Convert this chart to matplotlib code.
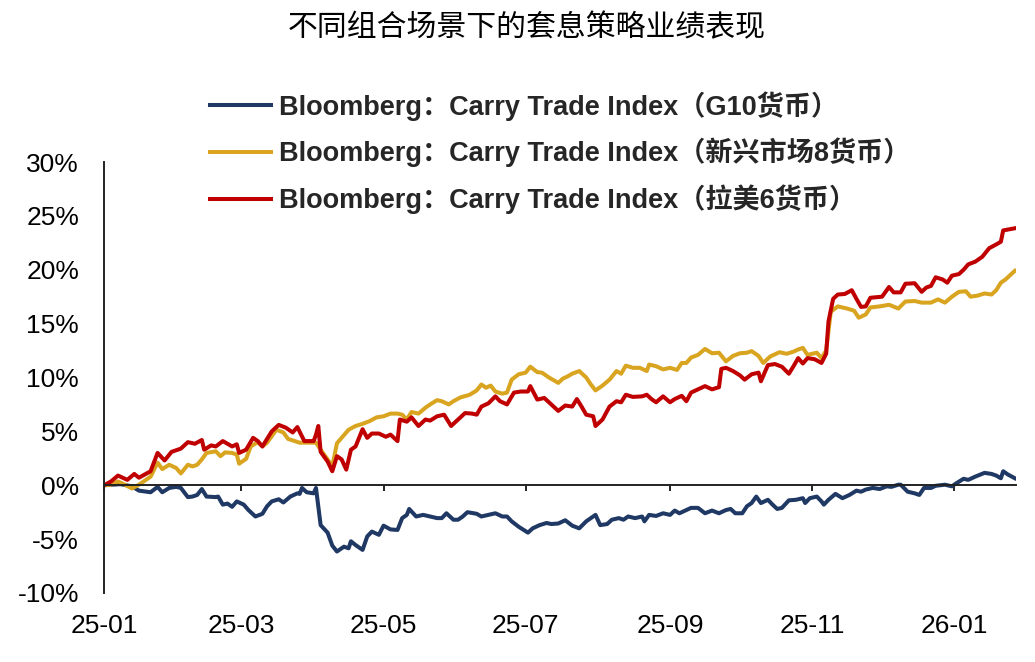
import pandas as pd
import matplotlib
matplotlib.use("Agg")
import matplotlib.pyplot as plt
import matplotlib.dates as mdates
from matplotlib.ticker import FuncFormatter

# Bloomberg Carry Trade Index, cumulative return (%) since 2025-01-01
g10_dates = [
    "2025-01-01", "2025-01-08", "2025-01-13", "2025-01-16", "2025-01-21", "2025-01-24", "2025-01-26",
    "2025-01-29", "2025-02-01", "2025-02-03", "2025-02-06", "2025-02-08", "2025-02-10", "2025-02-12",
    "2025-02-14", "2025-02-18", "2025-02-19", "2025-02-21", "2025-02-23", "2025-02-25", "2025-02-27",
    "2025-03-02", "2025-03-04", "2025-03-07", "2025-03-10", "2025-03-12", "2025-03-14", "2025-03-17",
    "2025-03-19", "2025-03-22", "2025-03-25", "2025-03-26", "2025-03-27", "2025-03-29", "2025-04-01",
    "2025-04-02", "2025-04-04", "2025-04-07", "2025-04-09", "2025-04-11", "2025-04-14", "2025-04-16",
    "2025-04-17", "2025-04-19", "2025-04-22", "2025-04-24", "2025-04-26", "2025-04-29", "2025-05-01",
    "2025-05-04", "2025-05-07", "2025-05-09", "2025-05-11", "2025-05-12", "2025-05-15", "2025-05-18",
    "2025-05-21", "2025-05-24", "2025-05-26", "2025-05-28", "2025-05-31", "2025-06-02", "2025-06-04",
    "2025-06-06", "2025-06-10", "2025-06-12", "2025-06-15", "2025-06-18", "2025-06-21", "2025-06-23",
    "2025-06-25", "2025-06-28", "2025-07-02", "2025-07-04", "2025-07-07", "2025-07-10", "2025-07-12",
    "2025-07-15", "2025-07-18", "2025-07-21", "2025-07-24", "2025-07-27", "2025-07-30", "2025-07-31",
    "2025-08-02", "2025-08-05", "2025-08-07", "2025-08-10", "2025-08-12", "2025-08-14", "2025-08-17",
    "2025-08-20", "2025-08-21", "2025-08-23", "2025-08-26", "2025-08-29", "2025-09-01", "2025-09-03",
    "2025-09-05", "2025-09-08", "2025-09-10", "2025-09-13", "2025-09-16", "2025-09-19", "2025-09-22",
    "2025-09-25", "2025-09-27", "2025-09-29", "2025-10-02", "2025-10-04", "2025-10-06", "2025-10-08",
    "2025-10-10", "2025-10-13", "2025-10-15", "2025-10-17", "2025-10-19", "2025-10-22", "2025-10-25",
    "2025-10-28", "2025-10-29", "2025-10-31", "2025-11-03", "2025-11-05", "2025-11-06", "2025-11-08",
    "2025-11-11", "2025-11-14", "2025-11-17", "2025-11-20", "2025-11-22", "2025-11-24", "2025-11-27",
    "2025-11-30", "2025-12-03", "2025-12-05", "2025-12-08", "2025-12-09", "2025-12-12", "2025-12-15",
    "2025-12-17", "2025-12-19", "2025-12-22", "2025-12-24", "2025-12-28", "2025-12-31", "2026-01-02",
    "2026-01-05", "2026-01-07", "2026-01-10", "2026-01-14", "2026-01-17", "2026-01-19", "2026-01-21",
    "2026-01-22", "2026-01-24", "2026-01-27",
]
g10 = [
    0.0, 0.1, -0.1, -0.5, -0.65, -0.15, -0.65,
    -0.25, -0.15, -0.25, -1.1, -1.05, -0.9, -0.35,
    -1.05, -1.1, -1.05, -1.8, -1.7, -2.0, -1.5,
    -1.8, -2.3, -2.9, -2.65, -1.95, -1.5, -1.3,
    -1.6, -1.05, -0.75, -0.8, -0.25, -0.65, -0.75,
    -0.25, -3.7, -4.4, -5.6, -6.15, -5.7, -5.85,
    -5.2, -5.55, -6.0, -4.75, -4.3, -4.6, -3.75,
    -4.1, -4.15, -3.05, -2.75, -2.2, -2.9, -2.75,
    -2.9, -3.05, -3.05, -2.6, -3.2, -3.2, -2.9,
    -2.5, -2.65, -2.9, -2.75, -2.6, -2.9, -2.9,
    -3.35, -3.85, -4.4, -4.0, -3.7, -3.5, -3.6,
    -3.55, -3.25, -3.75, -4.0, -3.35, -2.9, -2.75,
    -3.7, -3.6, -3.2, -3.05, -3.2, -2.9, -3.05,
    -2.9, -3.35, -2.75, -2.85, -2.6, -2.75, -2.35,
    -2.6, -2.3, -2.1, -2.1, -2.6, -2.35, -2.6,
    -2.3, -2.2, -2.6, -2.6, -1.95, -1.65, -1.05,
    -1.65, -1.35, -1.8, -2.2, -2.1, -1.4, -1.35,
    -1.2, -1.65, -1.2, -1.05, -1.5, -1.8, -1.35,
    -0.8, -1.2, -0.9, -0.5, -0.6, -0.4, -0.25,
    -0.35, -0.1, -0.15, 0.05, 0.05, -0.6, -0.75,
    -0.9, -0.25, -0.25, -0.05, 0.05, -0.1, 0.2,
    0.6, 0.5, 0.8, 1.15, 1.05, 0.9, 0.65,
    1.3, 1.0, 0.65,
]

em8_dates = [
    "2025-01-01", "2025-01-04", "2025-01-07", "2025-01-10", "2025-01-13", "2025-01-16", "2025-01-18",
    "2025-01-21", "2025-01-24", "2025-01-26", "2025-01-29", "2025-02-01", "2025-02-03", "2025-02-06",
    "2025-02-08", "2025-02-10", "2025-02-12", "2025-02-14", "2025-02-18", "2025-02-20", "2025-02-22",
    "2025-02-25", "2025-02-27", "2025-02-28", "2025-03-03", "2025-03-05", "2025-03-08", "2025-03-10",
    "2025-03-12", "2025-03-16", "2025-03-19", "2025-03-21", "2025-03-26", "2025-03-30", "2025-04-02",
    "2025-04-04", "2025-04-07", "2025-04-09", "2025-04-11", "2025-04-13", "2025-04-16", "2025-04-19",
    "2025-04-22", "2025-04-25", "2025-04-28", "2025-05-01", "2025-05-04", "2025-05-07", "2025-05-09",
    "2025-05-11", "2025-05-13", "2025-05-16", "2025-05-19", "2025-05-21", "2025-05-24", "2025-05-26",
    "2025-05-29", "2025-05-31", "2025-06-03", "2025-06-07", "2025-06-10", "2025-06-12", "2025-06-14",
    "2025-06-16", "2025-06-18", "2025-06-21", "2025-06-23", "2025-06-25", "2025-06-28", "2025-07-01",
    "2025-07-03", "2025-07-06", "2025-07-08", "2025-07-11", "2025-07-15", "2025-07-17", "2025-07-19",
    "2025-07-21", "2025-07-24", "2025-07-27", "2025-07-29", "2025-07-31", "2025-08-03", "2025-08-06",
    "2025-08-09", "2025-08-11", "2025-08-13", "2025-08-16", "2025-08-19", "2025-08-22", "2025-08-23",
    "2025-08-26", "2025-08-29", "2025-09-01", "2025-09-04", "2025-09-06", "2025-09-08", "2025-09-10",
    "2025-09-13", "2025-09-16", "2025-09-19", "2025-09-22", "2025-09-25", "2025-09-28", "2025-10-01",
    "2025-10-04", "2025-10-06", "2025-10-09", "2025-10-11", "2025-10-14", "2025-10-18", "2025-10-21",
    "2025-10-24", "2025-10-26", "2025-10-28", "2025-10-30", "2025-10-31", "2025-11-03", "2025-11-05",
    "2025-11-07", "2025-11-09", "2025-11-12", "2025-11-16", "2025-11-19", "2025-11-21", "2025-11-24",
    "2025-11-26", "2025-11-30", "2025-12-04", "2025-12-08", "2025-12-11", "2025-12-15", "2025-12-18",
    "2025-12-22", "2025-12-25", "2025-12-28", "2025-12-31", "2026-01-03", "2026-01-06", "2026-01-08",
    "2026-01-11", "2026-01-14", "2026-01-17", "2026-01-19", "2026-01-21", "2026-01-23", "2026-01-27",
]
em8 = [
    0.0, 0.05, 0.35, 0.05, -0.3, 0.05, 0.35,
    0.8, 2.1, 1.5, 1.9, 1.6, 1.1, 1.9,
    1.75, 1.9, 2.4, 3.0, 3.15, 2.7, 3.05,
    3.0, 2.85, 2.0, 2.45, 3.6, 4.0, 3.6,
    3.95, 5.15, 4.9, 4.3, 3.95, 3.95, 3.95,
    3.3, 2.4, 1.75, 3.9, 4.4, 5.15, 5.5,
    5.7, 5.95, 6.3, 6.4, 6.65, 6.65, 6.55,
    6.1, 6.8, 6.65, 7.2, 7.5, 7.9, 7.8,
    7.5, 7.8, 8.15, 8.4, 8.8, 9.35, 9.05,
    9.25, 8.7, 8.5, 8.6, 9.8, 10.3, 10.45,
    11.0, 10.5, 10.45, 10.0, 9.5, 9.9, 10.1,
    10.35, 10.6, 10.0, 9.35, 8.8, 9.25, 9.8,
    10.6, 10.35, 11.1, 10.9, 10.9, 10.6, 11.2,
    11.05, 10.75, 10.9, 10.7, 11.35, 11.35, 11.85,
    12.1, 12.65, 12.25, 12.3, 11.5, 12.0, 12.25,
    12.3, 12.45, 12.0, 11.35, 11.95, 12.35, 12.2,
    12.4, 12.6, 12.75, 12.1, 12.15, 12.3, 11.8,
    12.5, 16.1, 16.6, 16.4, 16.2, 15.55, 15.85,
    16.5, 16.6, 16.75, 16.4, 17.05, 17.1, 16.95,
    16.95, 17.25, 16.95, 17.5, 17.95, 18.0, 17.5,
    17.6, 17.8, 17.7, 18.1, 18.8, 19.1, 19.9,
]

latam6_dates = [
    "2025-01-01", "2025-01-04", "2025-01-07", "2025-01-11", "2025-01-14", "2025-01-16", "2025-01-21",
    "2025-01-24", "2025-01-27", "2025-01-30", "2025-02-03", "2025-02-06", "2025-02-09", "2025-02-12",
    "2025-02-13", "2025-02-16", "2025-02-18", "2025-02-21", "2025-02-25", "2025-02-27", "2025-02-28",
    "2025-03-03", "2025-03-06", "2025-03-08", "2025-03-10", "2025-03-14", "2025-03-17", "2025-03-20",
    "2025-03-23", "2025-03-25", "2025-03-28", "2025-04-01", "2025-04-02", "2025-04-03", "2025-04-04",
    "2025-04-07", "2025-04-09", "2025-04-11", "2025-04-13", "2025-04-15", "2025-04-17", "2025-04-19",
    "2025-04-22", "2025-04-24", "2025-04-26", "2025-04-29", "2025-05-02", "2025-05-04", "2025-05-07",
    "2025-05-08", "2025-05-11", "2025-05-13", "2025-05-16", "2025-05-19", "2025-05-21", "2025-05-24",
    "2025-05-27", "2025-05-30", "2025-06-02", "2025-06-05", "2025-06-08", "2025-06-10", "2025-06-12",
    "2025-06-15", "2025-06-18", "2025-06-20", "2025-06-23", "2025-06-26", "2025-06-29", "2025-07-02",
    "2025-07-03", "2025-07-06", "2025-07-09", "2025-07-12", "2025-07-15", "2025-07-18", "2025-07-21",
    "2025-07-23", "2025-07-25", "2025-07-27", "2025-07-30", "2025-07-31", "2025-08-03", "2025-08-06",
    "2025-08-09", "2025-08-11", "2025-08-13", "2025-08-16", "2025-08-20", "2025-08-22", "2025-08-24",
    "2025-08-26", "2025-08-29", "2025-09-01", "2025-09-03", "2025-09-06", "2025-09-08", "2025-09-10",
    "2025-09-13", "2025-09-16", "2025-09-19", "2025-09-22", "2025-09-23", "2025-09-25", "2025-09-28",
    "2025-10-01", "2025-10-03", "2025-10-06", "2025-10-09", "2025-10-10", "2025-10-13", "2025-10-16",
    "2025-10-19", "2025-10-22", "2025-10-24", "2025-10-26", "2025-10-28", "2025-10-30", "2025-11-02",
    "2025-11-05", "2025-11-07", "2025-11-08", "2025-11-10", "2025-11-12", "2025-11-15", "2025-11-18",
    "2025-11-20", "2025-11-22", "2025-11-24", "2025-11-26", "2025-12-01", "2025-12-04", "2025-12-06",
    "2025-12-09", "2025-12-11", "2025-12-15", "2025-12-18", "2025-12-20", "2025-12-22", "2025-12-24",
    "2025-12-27", "2025-12-29", "2025-12-31", "2026-01-03", "2026-01-05", "2026-01-07", "2026-01-10",
    "2026-01-13", "2026-01-16", "2026-01-19", "2026-01-21", "2026-01-22", "2026-01-27",
]
latam6 = [
    0.0, 0.35, 0.9, 0.5, 1.05, 0.7, 1.3,
    3.0, 2.3, 3.1, 3.4, 4.0, 3.85, 4.2,
    3.3, 3.7, 3.6, 4.1, 3.6, 3.8, 3.0,
    3.3, 4.4, 4.1, 3.6, 5.0, 5.6, 5.35,
    4.9, 5.4, 4.1, 4.1, 4.7, 5.5, 3.1,
    2.2, 1.3, 2.7, 2.4, 1.45, 3.3, 3.6,
    5.2, 4.4, 4.8, 4.8, 4.5, 4.7, 4.1,
    6.1, 5.9, 6.3, 5.5, 6.1, 6.0, 6.4,
    6.55, 5.5, 6.1, 6.7, 6.65, 6.55, 7.3,
    7.6, 8.25, 7.8, 7.5, 8.6, 8.7, 8.7,
    9.2, 7.95, 8.1, 7.5, 6.9, 7.4, 7.3,
    8.0, 7.3, 6.55, 6.4, 5.5, 6.1, 7.3,
    7.8, 7.7, 8.4, 8.2, 8.25, 8.4, 8.0,
    7.7, 8.25, 7.7, 8.0, 8.3, 7.8, 8.6,
    8.9, 9.2, 8.9, 9.1, 10.8, 10.9, 10.6,
    10.2, 9.8, 10.3, 10.45, 9.65, 11.15, 11.25,
    11.0, 10.35, 11.05, 11.8, 11.3, 11.8, 11.7,
    11.35, 12.2, 15.2, 17.3, 17.7, 17.75, 18.1,
    17.3, 16.55, 16.6, 17.4, 17.5, 18.4, 17.9,
    17.9, 18.7, 18.75, 17.95, 18.35, 18.5, 19.3,
    19.1, 18.8, 19.45, 19.6, 20.0, 20.5, 20.75,
    21.2, 22.0, 22.35, 22.6, 23.65, 23.85,
]

series_labels = [
    "Bloomberg：Carry Trade Index（G10货币）",
    "Bloomberg：Carry Trade Index（新兴市场8货币）",
    "Bloomberg：Carry Trade Index（拉美6货币）",
]
series_colors = ["#1F3864", "#D9A520", "#C00000"]
title = "不同组合场景下的套息策略业绩表现"

LATIN_CJK = ["Liberation Sans", "Noto Sans CJK SC", "DejaVu Sans"]
plt.rcParams["font.family"] = LATIN_CJK

fig = plt.figure(figsize=(10.35, 6.62), dpi=100)
ax = fig.add_axes([104 / 1035, 69 / 662, 912 / 1035, 431 / 662])

all_series = [(g10_dates, g10), (em8_dates, em8), (latam6_dates, latam6)]
for (dates, vals), label, color in zip(all_series, series_labels, series_colors):
    ax.plot(pd.to_datetime(dates), vals, color=color, lw=2.9, label=label,
            solid_joinstyle="round")

ax.set_ylim(-10, 30)
ax.set_yticks(range(-10, 31, 5))
ax.yaxis.set_major_formatter(FuncFormatter(lambda v, _: f"{v:.0f}%"))
ax.set_xlim(pd.Timestamp("2025-01-01"), pd.Timestamp("2026-01-27 12:00"))
ax.xaxis.set_major_locator(mdates.MonthLocator(bymonth=[1, 3, 5, 7, 9, 11]))
ax.xaxis.set_major_formatter(mdates.DateFormatter("%y-%m"))

# x axis line sits on 0%, labels stay under the plot
ax.spines["bottom"].set_position(("data", 0))
for side in ["top", "right"]:
    ax.spines[side].set_visible(False)
for side in ["left", "bottom"]:
    ax.spines[side].set_linewidth(1.4)
    ax.spines[side].set_color("#222222")
ax.tick_params(axis="x", direction="out", length=4, width=1.4, color="#222222",
               pad=89, labelsize=19)
ax.tick_params(axis="y", length=0, pad=18, labelsize=19)

fig.legend(loc="upper left", bbox_to_anchor=(210 / 1035, 1 - 91 / 662),
           frameon=False, borderpad=0, borderaxespad=0,
           handlelength=2.25, handletextpad=0.3, labelspacing=0.63,
           prop={"family": LATIN_CJK, "weight": "bold", "size": 19.5},
           labelcolor="#262626")

fig.text(527 / 1035, 1 - 28 / 662, title, ha="center", va="center",
         fontsize=21.5, family=["Noto Sans CJK SC", "DejaVu Sans"])

fig.savefig("out.png", dpi=100)
